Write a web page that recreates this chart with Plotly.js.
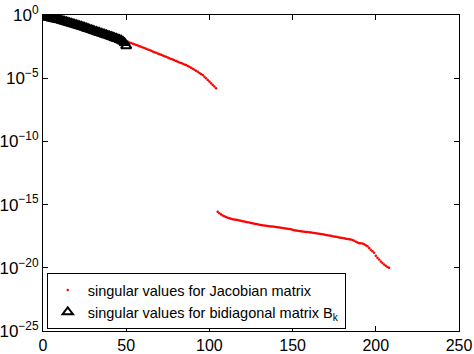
<!DOCTYPE html>
<html>
<head>
<meta charset="utf-8">
<script src="https://cdn.plot.ly/plotly-3.0.1.min.js"></script>
<style>html,body{margin:0;padding:0;background:#fff;}#chart{width:474px;height:354px;}</style>
</head>
<body>
<div id="chart"></div>
<script>
// log10 of singular values of the Jacobian matrix, index 1..208
var jacobianLog10 = [
-0.10,-0.15,-0.19,-0.22,-0.25,-0.28,-0.31,-0.34,-0.37,-0.40,
-0.43,-0.47,-0.51,-0.55,-0.59,-0.63,-0.67,-0.71,-0.75,-0.79,
-0.83,-0.87,-0.91,-0.95,-0.99,-1.04,-1.08,-1.13,-1.17,-1.22,
-1.27,-1.31,-1.36,-1.40,-1.45,-1.49,-1.54,-1.58,-1.63,-1.67,
-1.72,-1.76,-1.81,-1.85,-1.90,-1.94,-1.98,-2.02,-2.05,-2.08,
-2.12,-2.17,-2.22,-2.27,-2.32,-2.37,-2.42,-2.47,-2.52,-2.57,
-2.62,-2.67,-2.72,-2.77,-2.83,-2.89,-2.94,-2.99,-3.04,-3.10,
-3.15,-3.20,-3.26,-3.31,-3.37,-3.43,-3.48,-3.53,-3.58,-3.64,
-3.69,-3.75,-3.80,-3.85,-3.91,-3.96,-4.03,-4.10,-4.17,-4.25,
-4.33,-4.41,-4.49,-4.58,-4.66,-4.75,-4.88,-5.01,-5.14,-5.27,
-5.40,-5.53,-5.66,-5.80,
-15.56,-15.68,-15.78,-15.86,-15.93,-15.99,-16.04,-16.08,-16.12,-16.15,
-16.18,-16.20,-16.22,-16.25,-16.28,-16.31,-16.34,-16.37,-16.40,-16.42,
-16.45,-16.48,-16.51,-16.54,-16.56,-16.59,-16.61,-16.63,-16.65,-16.67,
-16.69,-16.71,-16.73,-16.74,-16.76,-16.78,-16.80,-16.82,-16.84,-16.86,
-16.87,-16.89,-16.91,-16.93,-16.96,-16.99,-17.02,-17.04,-17.06,-17.08,
-17.10,-17.12,-17.14,-17.16,-17.17,-17.19,-17.21,-17.23,-17.25,-17.27,
-17.29,-17.31,-17.33,-17.35,-17.37,-17.40,-17.42,-17.45,-17.47,-17.50,
-17.52,-17.55,-17.57,-17.60,-17.62,-17.65,-17.67,-17.70,-17.72,-17.75,
-17.77,-17.80,-17.86,-17.93,-18.00,-18.05,-18.06,-18.07,-18.14,-18.22,
-18.30,-18.44,-18.58,-18.70,-18.80,-19.05,-19.20,-19.35,-19.50,-19.63,
-19.74,-19.84,-19.93,-20.00
];
// log10 of singular values of the bidiagonal matrix B_k, index 1..50
var bidiagLog10 = [
-0.10,-0.15,-0.19,-0.22,-0.25,-0.28,-0.31,-0.34,-0.37,-0.40,
-0.43,-0.47,-0.51,-0.55,-0.59,-0.63,-0.67,-0.71,-0.75,-0.79,
-0.83,-0.87,-0.91,-0.95,-0.99,-1.04,-1.08,-1.13,-1.17,-1.22,
-1.27,-1.31,-1.36,-1.40,-1.45,-1.49,-1.54,-1.58,-1.63,-1.67,
-1.72,-1.76,-1.81,-1.85,-1.90,-1.95,-2.01,-2.08,-2.20,-2.45
];
var seriesNames = ['singular values for Jacobian matrix', 'singular values for bidiagonal matrix B<sub>k</sub>'];
var xTickVals = [0, 50, 100, 150, 200, 250];
var yTickVals = [1, 1e-5, 1e-10, 1e-15, 1e-20, 1e-25];
var yTickText = ['10<sup>0</sup>', '10<sup>\u22125</sup>', '10<sup>\u221210</sup>', '10<sup>\u221215</sup>', '10<sup>\u221220</sup>', '10<sup>\u221225</sup>'];

function toLinear(arr){ return arr.map(function(e){ return Math.pow(10, e); }); }

var traces = [
  {
    type: 'scatter', mode: 'markers', name: seriesNames[0],
    x0: 1, dx: 1, y: toLinear(jacobianLog10),
    marker: {color: '#ff0000', size: 2.5, symbol: 'circle'}
  },
  {
    type: 'scatter', mode: 'markers', name: seriesNames[1],
    x0: 1, dx: 1, y: toLinear(bidiagLog10),
    marker: {color: '#000000', size: 9, symbol: 'triangle-up-open', line: {color: '#000', width: 2}}
  }
];

var FONT = '"Liberation Sans", Arial, Helvetica, sans-serif';
var axisCommon = {
  showline: true, linecolor: '#000', linewidth: 1, mirror: 'ticks',
  ticks: 'inside', ticklen: 5, tickcolor: '#000', tickwidth: 1,
  showgrid: false, zeroline: false,
  tickfont: {family: FONT, size: 16, color: '#000'}
};

var layout = {
  width: 474, height: 354,
  margin: {l: 43, r: 15, t: 15, b: 23, pad: 0},
  paper_bgcolor: '#fff', plot_bgcolor: '#fff',
  showlegend: true,
  font: {family: FONT, color: '#000'},
  xaxis: Object.assign({}, axisCommon, {
    range: [0, 250], tickmode: 'array', tickvals: xTickVals, ticktext: xTickVals.map(String)
  }),
  yaxis: Object.assign({}, axisCommon, {
    type: 'log', range: [-25, 0], tickmode: 'array', tickvals: yTickVals, ticktext: yTickText,
    tickfont: {family: FONT, size: 17, color: '#000'}
  }),
  legend: {
    x: 0.009, y: 0.183, xanchor: 'left', yanchor: 'top',
    bgcolor: '#fff', bordercolor: '#000', borderwidth: 1,
    font: {family: FONT, size: 14.5, color: '#000'},
    tracegroupgap: 0
  }
};

Plotly.newPlot('chart', traces, layout, {staticPlot: true, displayModeBar: false});
</script>
</body>
</html>
